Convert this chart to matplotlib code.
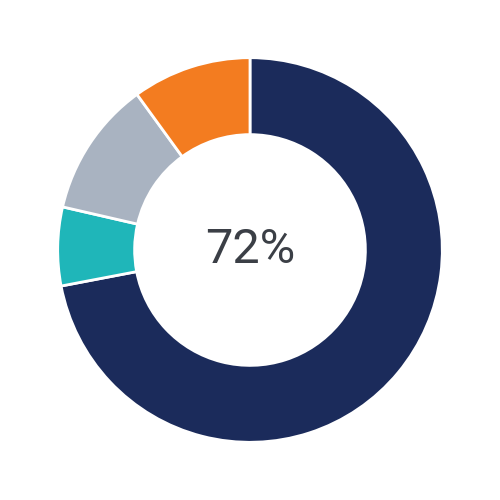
import matplotlib
matplotlib.use('Agg')
from matplotlib import pyplot as plt

labels = ['Navy', 'Teal', 'Gray', 'Orange']
values = [72, 6.6, 11.4, 10]
colors = ['#1b2b5b', '#1fb6b9', '#a9b3c1', '#f37c20']
center_text = '72%'

fig = plt.figure(figsize=(5, 5), dpi=100)
ax = fig.add_axes([0, 0, 1, 1])

ax.pie(values, colors=colors, startangle=90, counterclock=False,
       radius=1.0, wedgeprops=dict(width=0.4, edgecolor='white', linewidth=2))
ax.text(0, 0, center_text, ha='center', va='center', fontsize=35,
        color='#3b3f46', family=['Roboto', 'DejaVu Sans'])

ax.set_xlim(-1.3, 1.3)
ax.set_ylim(-1.3, 1.3)
ax.set_aspect('equal')
ax.axis('off')

fig.savefig('out.png', dpi=100, facecolor='white')
